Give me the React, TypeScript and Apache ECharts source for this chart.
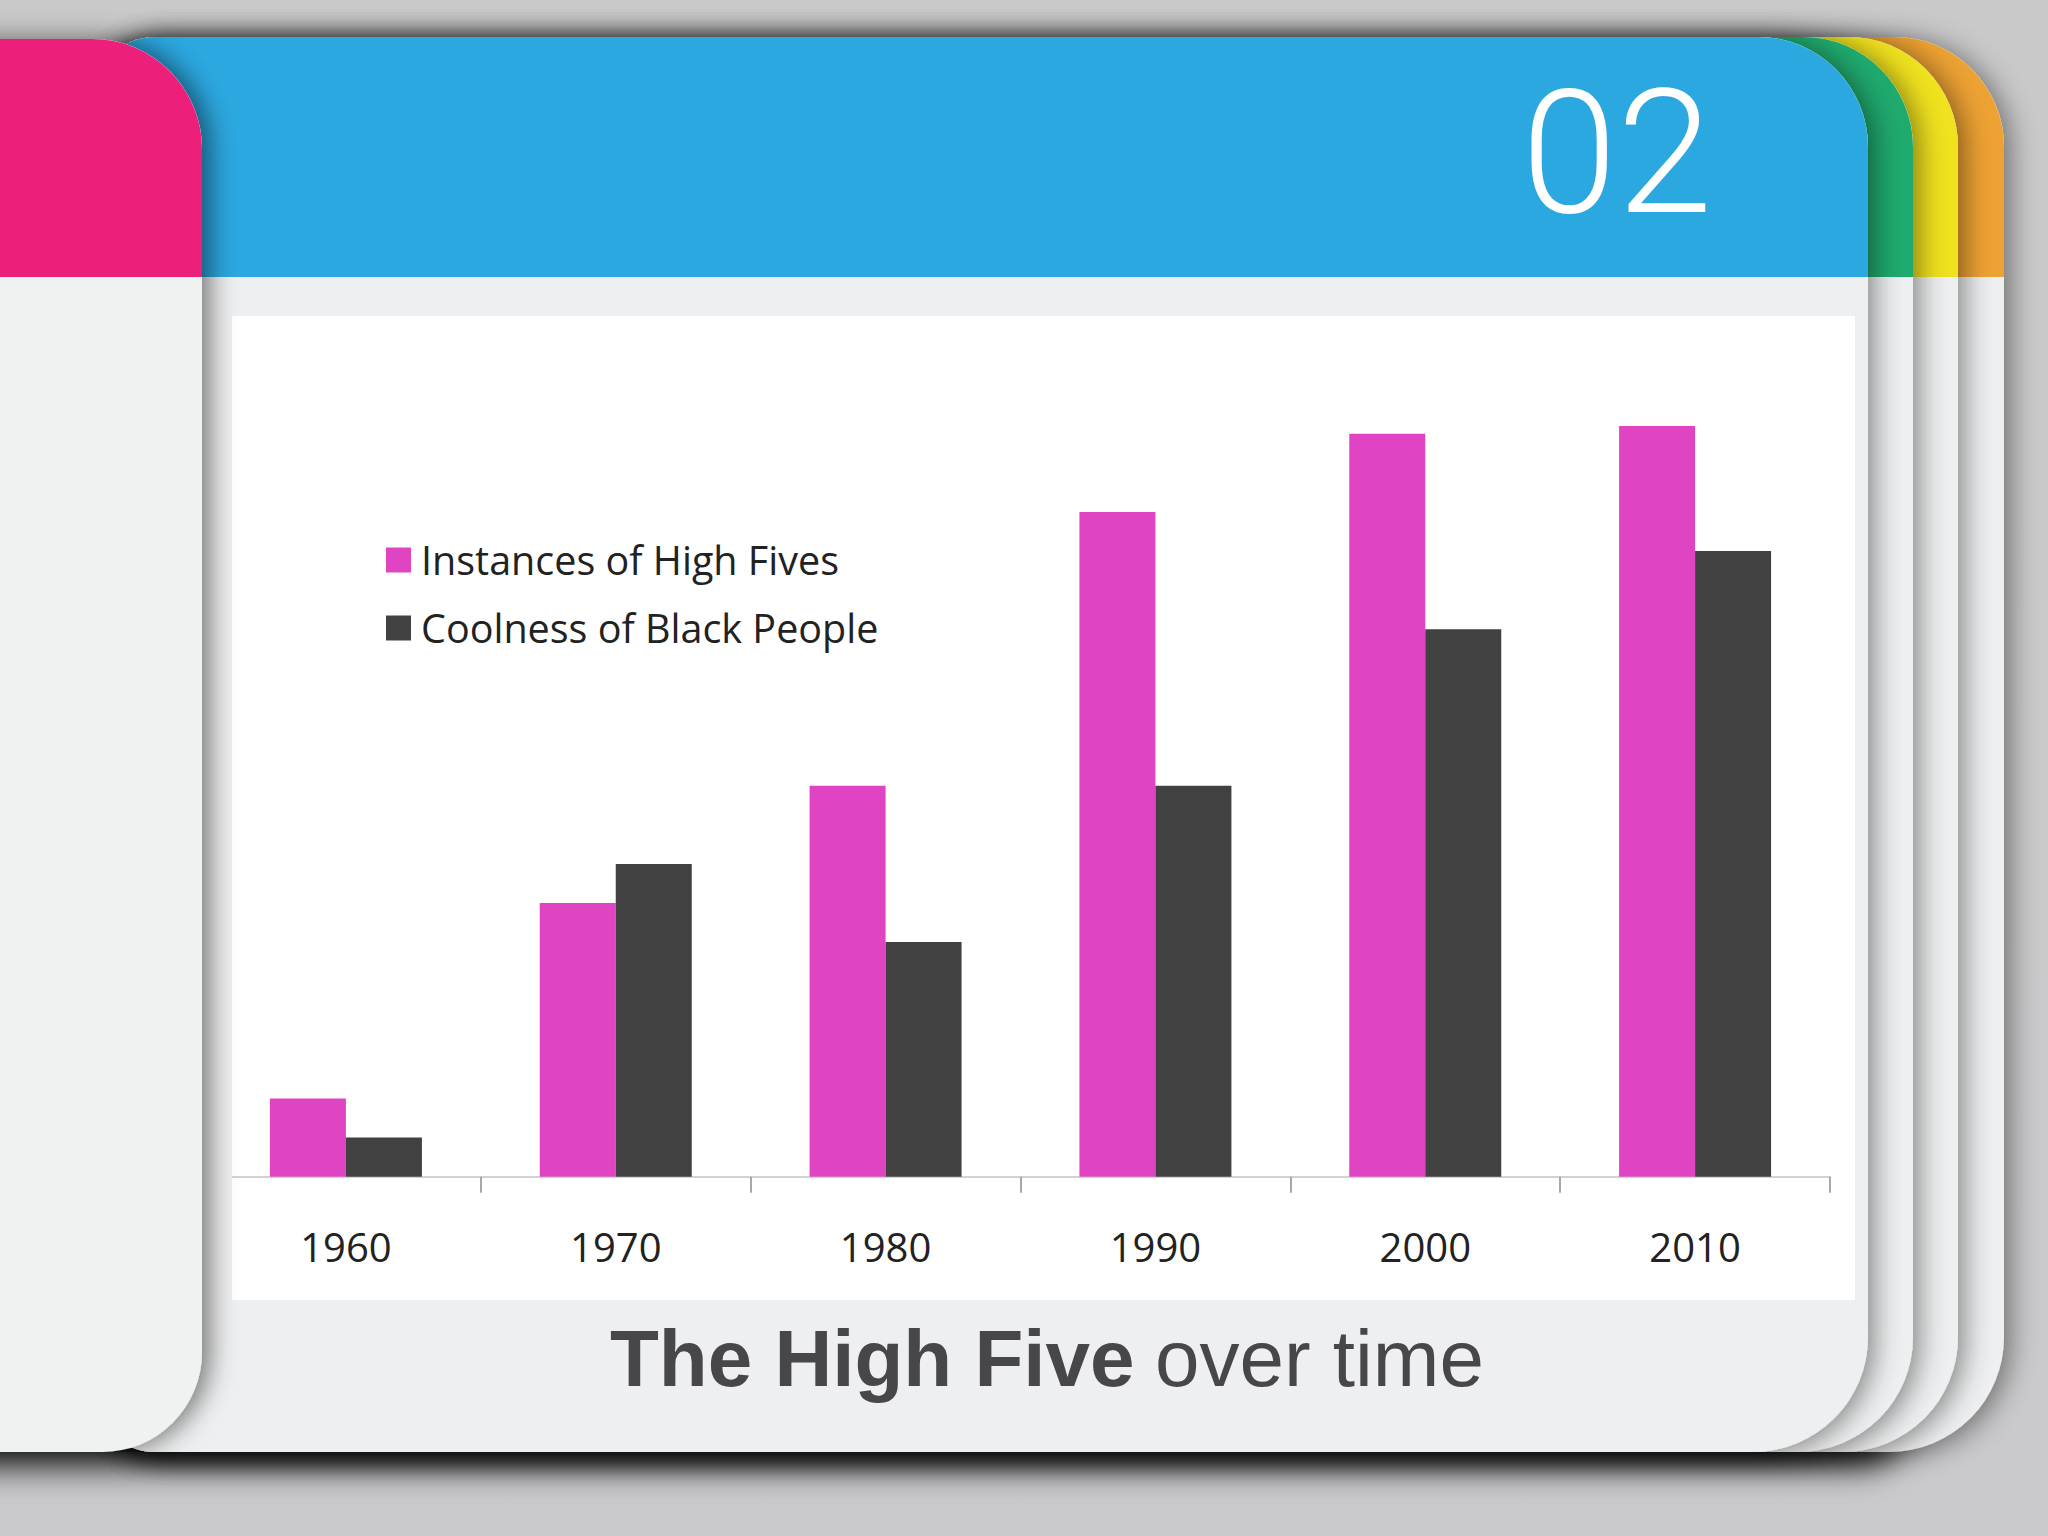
import React, { useEffect, useRef } from 'react';
import * as echarts from 'echarts';

const years = ['1960', '1970', '1980', '1990', '2000', '2010'];
const highFives = [2, 7, 10, 17, 19, 19.2];
const coolness = [1, 8, 6, 10, 14, 16];
const seriesNames = ['Instances of High Fives', 'Coolness of Black People'];
const barColors = ['#e044c3', '#414141'];

const W = 2048;
const H = 1536;
const CARD_TOP = 37;
const CARD_BOTTOM = 1452;
const HEADER_H = 240;

// one card of the stack: grey body with a coloured header band
const card = (x: number, right: number, color: string, z: number) => [
  {
    type: 'rect',
    z,
    shape: { x, y: CARD_TOP, width: right - x, height: CARD_BOTTOM - CARD_TOP, r: [60, 110, 115, 60] },
    style: { fill: '#eeeff0', shadowBlur: 28, shadowOffsetX: 6, shadowOffsetY: 3, shadowColor: 'rgba(0,0,0,0.45)' },
  },
  {
    type: 'rect',
    z,
    shape: { x, y: CARD_TOP, width: right - x, height: HEADER_H, r: [60, 110, 0, 0] },
    style: { fill: color },
  },
];

const App: React.FC = () => {
  const chartRef = useRef<HTMLDivElement>(null);

  useEffect(() => {
    if (!chartRef.current) return;
    const chart = echarts.init(chartRef.current, null, { renderer: 'svg' });

    const option = {
      animation: false,
      backgroundColor: '#c8c8c8',
      graphic: [
        {
          type: 'rect',
          z: 0,
          shape: { x: 0, y: 0, width: W, height: H },
          style: {
            fill: new echarts.graphic.LinearGradient(0, 0, 0, 1, [
              { offset: 0, color: '#c9c9c9' },
              { offset: 1, color: '#cac9cc' },
            ]),
          },
        },
        // dark block hidden behind the stack, its blurred shadow shows below it
        {
          type: 'rect',
          z: 0,
          shape: { x: -60, y: 1380, width: 1960, height: CARD_BOTTOM - 1380, r: 80 },
          style: {
            fill: '#2a2a2a',
            shadowBlur: 34,
            shadowOffsetY: 14,
            shadowColor: 'rgba(0,0,0,0.85)',
          },
        },
        ...card(95, 2004, '#eea233', 0),
        ...card(95, 1958, '#f0e21e', 0),
        ...card(95, 1913, '#1faa6e', 0),
        ...card(95, 1868, '#2ca8e0', 0),
        // white chart panel
        {
          type: 'rect',
          z: 0,
          shape: { x: 232, y: 316, width: 1855 - 232, height: 1300 - 316 },
          style: { fill: '#ffffff' },
        },
        // strip of card body left of the panel, hides the axis line there
        {
          type: 'rect',
          z: 9,
          shape: { x: 150, y: 277, width: 82, height: CARD_BOTTOM - 277 - 60 },
          style: { fill: '#eeeff0' },
        },
        // pink card in front, at the left
        {
          type: 'rect',
          z: 10,
          shape: { x: -120, y: 39, width: 322, height: CARD_BOTTOM - 39, r: [0, 110, 100, 0] },
          style: { fill: '#f0f1f1', shadowBlur: 26, shadowOffsetX: 8, shadowColor: 'rgba(0,0,0,0.5)' },
        },
        {
          type: 'rect',
          z: 10,
          shape: { x: -120, y: 39, width: 322, height: 277 - 39, r: [0, 110, 0, 0] },
          style: { fill: '#ec1f7a' },
        },
        {
          type: 'text',
          z: 10,
          style: {
            text: '02',
            x: 1617,
            y: 153,
            fill: '#ffffff',
            font: '300 172px Roboto, "Liberation Sans", sans-serif',
            textAlign: 'center',
            textVerticalAlign: 'middle',
          },
        },
        {
          type: 'text',
          z: 10,
          style: {
            text: 'The High Five',
            x: 610,
            y: 1358,
            fill: '#47464a',
            font: 'bold 80px "Liberation Sans", Arial, sans-serif',
            textAlign: 'left',
            textVerticalAlign: 'middle',
          },
        },
        {
          type: 'text',
          z: 10,
          style: {
            text: 'over time',
            x: 1155,
            y: 1358,
            fill: '#47464a',
            font: '80px "Liberation Sans", Arial, sans-serif',
            textAlign: 'left',
            textVerticalAlign: 'middle',
          },
        },
      ],
      legend: {
        z: 6,
        orient: 'vertical',
        left: 386,
        top: 540,
        padding: 0,
        itemWidth: 25,
        itemHeight: 25,
        itemGap: 28,
        icon: 'rect',
        data: seriesNames,
        textStyle: {
          fontFamily: '"Open Sans", sans-serif',
          fontSize: 39.5,
          lineHeight: 40,
          color: '#222222',
          padding: [0, 0, 0, 5],
        },
      },
      grid: {
        left: 211,
        right: 218,
        top: 394.7,
        bottom: 359.3,
        containLabel: false,
      },
      xAxis: {
        type: 'category',
        data: years,
        z: 3,
        axisLine: { lineStyle: { color: '#d2d2d2', width: 2 } },
        axisTick: { show: true, length: 16, lineStyle: { color: '#a8a8a8', width: 2 } },
        axisLabel: {
          margin: 50,
          fontFamily: '"Open Sans", sans-serif',
          fontSize: 40,
          lineHeight: 40,
          color: '#222222',
        },
      },
      yAxis: {
        type: 'value',
        min: 0,
        max: 20,
        show: false,
        splitLine: { show: false },
      },
      series: [
        {
          name: seriesNames[0],
          type: 'bar',
          z: 4,
          data: highFives,
          barWidth: 76,
          barGap: '0%',
          itemStyle: { color: barColors[0] },
        },
        {
          name: seriesNames[1],
          type: 'bar',
          z: 4,
          data: coolness,
          barWidth: 76,
          barGap: '0%',
          itemStyle: { color: barColors[1] },
        },
      ],
    };

    chart.setOption(option);

    return () => {
      chart.dispose();
    };
  }, []);

  return (
    <div
      ref={chartRef}
      style={{ position: 'absolute', left: 0, top: 0, width: `${W}px`, height: `${H}px` }}
    />
  );
};

export default App;
